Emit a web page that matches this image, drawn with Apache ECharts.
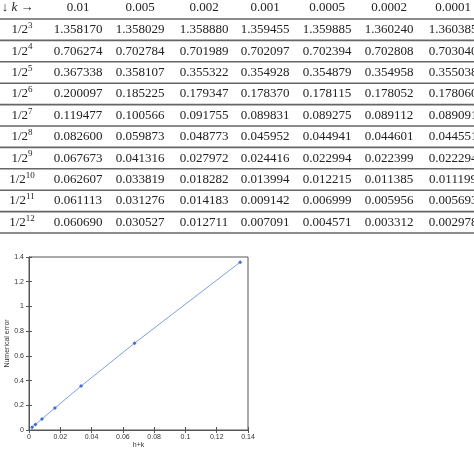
<!DOCTYPE html>
<html><head><meta charset="utf-8">
<script src="https://cdn.jsdelivr.net/npm/echarts@6/dist/echarts.min.js"></script>
<style>html,body{margin:0;padding:0;background:#fff}#c{width:474px;height:450px}</style>
</head><body><div id="c"></div>
<script>
const kLabels = ['0.01','0.005','0.002','0.001','0.0005','0.0002','0.0001'];
const hExp = [3,4,5,6,7,8,9,10,11,12];
const tableValues = [
 ['1.358170','1.358029','1.358880','1.359455','1.359885','1.360240','1.360385'],
 ['0.706274','0.702784','0.701989','0.702097','0.702394','0.702808','0.703040'],
 ['0.367338','0.358107','0.355322','0.354928','0.354879','0.354958','0.355038'],
 ['0.200097','0.185225','0.179347','0.178370','0.178115','0.178052','0.178060'],
 ['0.119477','0.100566','0.091755','0.089831','0.089275','0.089112','0.089091'],
 ['0.082600','0.059873','0.048773','0.045952','0.044941','0.044601','0.044551'],
 ['0.067673','0.041316','0.027972','0.024416','0.022994','0.022399','0.022294'],
 ['0.062607','0.033819','0.018282','0.013994','0.012215','0.011385','0.011199'],
 ['0.061113','0.031276','0.014183','0.009142','0.006999','0.005956','0.005693'],
 ['0.060690','0.030527','0.012711','0.007091','0.004571','0.003312','0.002978']
];
const hk = [0.135, 0.0675, 0.0333, 0.0166, 0.0083, 0.0041, 0.0020];
const err = [1.358170, 0.702784, 0.355322, 0.178370, 0.089275, 0.044601, 0.022294];

const serif = '"Liberation Serif", "DejaVu Serif", serif';
const colX = [22,78,140,204,265,327,389,453];
const headerY = 8, top0 = 19, rowH = 21.4;
const g = [];
g.push({type:'text', x:-8, y:headerY, style:{text:'h ↓ k →', font:'italic 13px '+serif, fill:'#222', textAlign:'left', textVerticalAlign:'middle'}});
kLabels.forEach((k,i)=>g.push({type:'text', x:colX[i+1], y:headerY, style:{text:k, font:'13px '+serif, fill:'#222', textAlign:'center', textVerticalAlign:'middle'}}));
for (let r=0;r<=hExp.length;r++){
  g.push({type:'line', shape:{x1:0,y1:top0+r*rowH,x2:474,y2:top0+r*rowH}, style:{stroke:'#666', lineWidth:1.6}});
}
hExp.forEach((e,r)=>{
  const cy = top0+(r+0.5)*rowH;
  g.push({type:'text', x:colX[0], y:cy, style:{text:'1/2{s|'+e+'}', font:'13px '+serif, fill:'#222', textAlign:'center', textVerticalAlign:'middle', rich:{s:{fontSize:9, fontFamily:serif, verticalAlign:'top', padding:[0,0,8,0], fill:'#222'}}}});
  tableValues[r].forEach((v,c)=>g.push({type:'text', x:colX[c+1], y:cy, style:{text:v, font:'13px '+serif, fill:'#222', textAlign:'center', textVerticalAlign:'middle'}}));
});

const lab = {fontSize:7, color:'#333', fontFamily:'Liberation Sans, Arial'};
const tick = {show:true, inside:true, length:3, lineStyle:{color:'#555'}};
const chart = echarts.init(document.getElementById('c'));
chart.setOption({
  animation:false,
  graphic:g,
  grid:{left:29, right:226, top:257, bottom:20, show:true, borderColor:'#555', borderWidth:1},
  xAxis:[
    {type:'value', min:0, max:0.14, interval:0.02, axisLine:{show:true, lineStyle:{color:'#555'}}, axisTick:tick,
     splitLine:{show:false}, axisLabel:{...lab, margin:4, formatter:v=>String(+v.toFixed(2))},
     name:'h+k', nameLocation:'middle', nameGap:11, nameTextStyle:{fontSize:7, color:'#333'}},
    {type:'value', position:'top', min:0, max:0.14, interval:0.02, axisLine:{show:true, lineStyle:{color:'#555'}}, axisTick:tick, axisLabel:{show:false}, splitLine:{show:false}}
  ],
  yAxis:[
    {type:'value', min:0, max:1.4, interval:0.2, axisLine:{show:true, lineStyle:{color:'#555'}}, axisTick:tick,
     splitLine:{show:false}, axisLabel:{...lab, margin:5, formatter:v=>String(+v.toFixed(1))},
     name:'Numerical error', nameLocation:'middle', nameGap:16, nameTextStyle:{fontSize:7, color:'#333'}},
    {type:'value', position:'right', min:0, max:1.4, interval:0.2, axisLine:{show:true, lineStyle:{color:'#555'}}, axisTick:tick, axisLabel:{show:false}, splitLine:{show:false}}
  ],
  series:[
    {type:'line', data:hk.map((x,i)=>[x,err[i]]), symbol:'diamond', symbolSize:4, showSymbol:true,
     lineStyle:{color:'#5b86d9', width:0.8}, itemStyle:{color:'#3f6fd0'}},
    {type:'line', xAxisIndex:1, yAxisIndex:1, data:[], silent:true}
  ]
});
</script></body></html>
